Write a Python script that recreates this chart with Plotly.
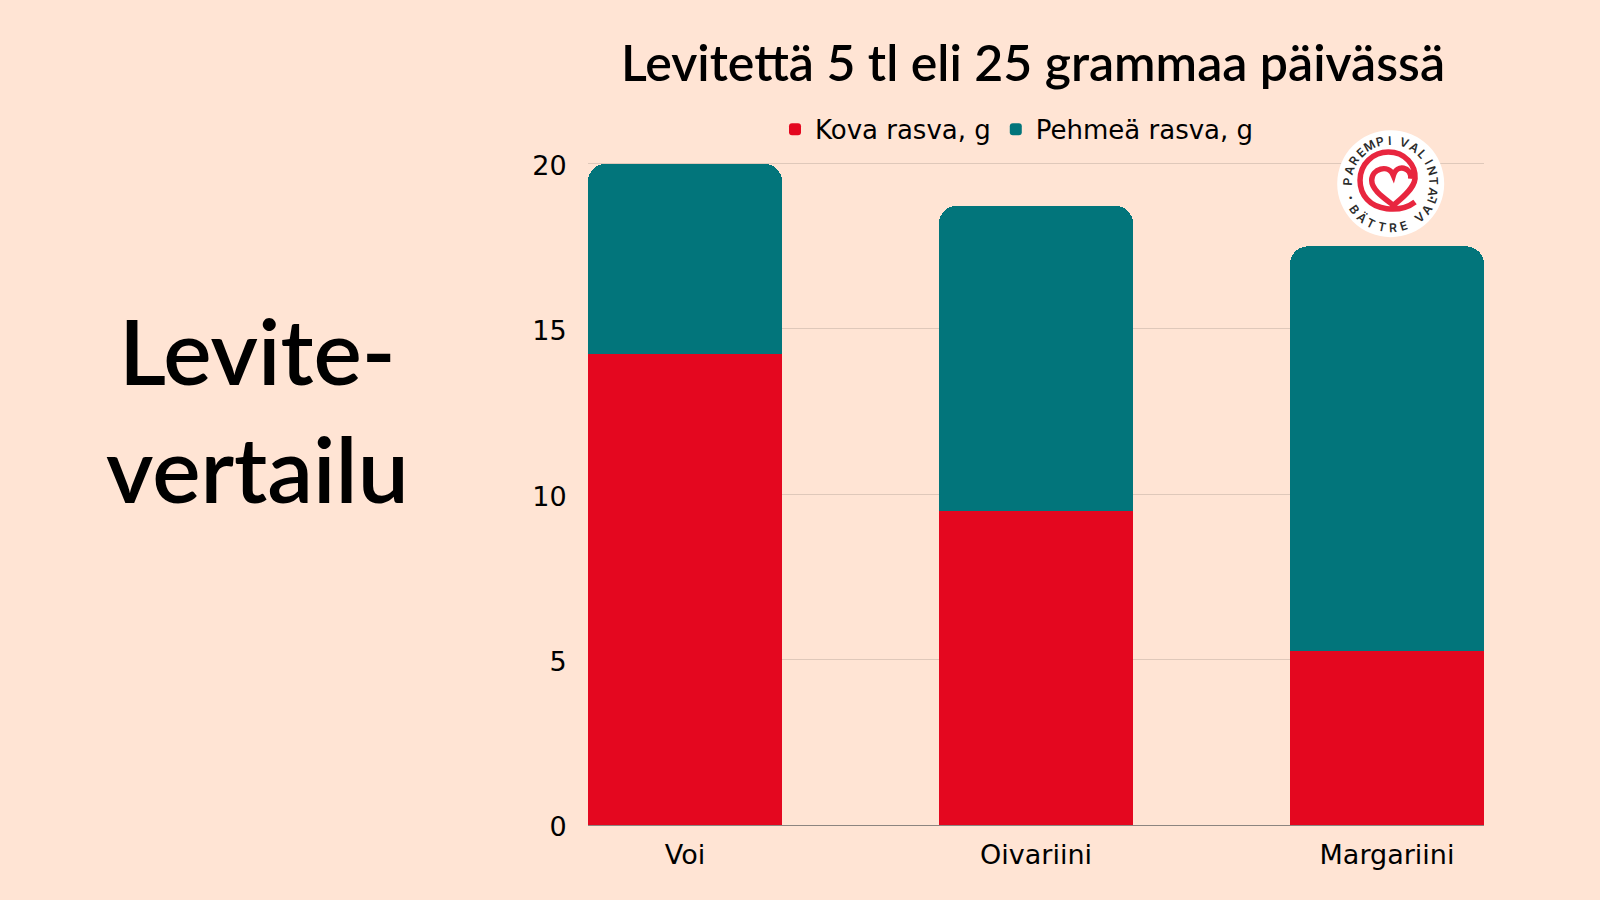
import math
import plotly.graph_objects as go

# ── DATA ──────────────────────────────
categories = ["Voi", "Oivariini", "Margariini"]
kova_rasva = [14.23, 9.5, 5.25]
pehmea_rasva = [5.77, 9.23, 12.25]
y_ticks = [0, 5, 10, 15, 20]

# ── STYLE ─────────────────────────────
BG = "#FFE4D4"
RED = "#E4071F"
TEAL = "#02757B"
LOGO_RED = "#E8263F"
LOGO_TEXT = "#2B2B2B"
TITLE_FONT = "Lato"
TICK_FONT = "DejaVu Sans"
TICK_SIZE = 27

W, H = 1600, 900
# top sits a little above 20 so plotly still draws the gridline there
Y_MAX = 20.05
L, R, T, B = 588, 1484, 161.65, 824.7


def px(x):
    return (x - L) / (R - L)


def py(y):
    return (B - y) / (B - T)


fig = go.Figure()
fig.add_trace(go.Bar(x=categories, y=kova_rasva, name="Kova rasva, g", marker=dict(color=RED, line_width=0)))
fig.add_trace(go.Bar(x=categories, y=pehmea_rasva, name="Pehmeä rasva, g", marker=dict(color=TEAL, line_width=0)))

# ── LOGO ──────────────────────────────
CX, CY, RAD = 1390.7, 183.3, 53.5


def logo_point(zx, zy):
    # points read from the 3x zoom, relative to the logo centre
    return f"{px(CX + (zx - 332) / 3):.5f},{py(CY + (zy - 220) / 3):.5f}"


heart = (
    f"M{logo_point(405, 275)} "
    f"C{logo_point(375, 298)} {logo_point(345, 298)} {logo_point(320, 295)} "
    f"C{logo_point(270, 290)} {logo_point(240, 255)} {logo_point(240, 210)} "
    f"C{logo_point(240, 160)} {logo_point(280, 125)} {logo_point(325, 125)} "
    f"C{logo_point(375, 125)} {logo_point(408, 165)} {logo_point(405, 205)} "
    f"C{logo_point(402, 235)} {logo_point(365, 265)} {logo_point(340, 285)} "
    f"C{logo_point(315, 265)} {logo_point(275, 240)} {logo_point(275, 210)} "
    f"C{logo_point(275, 175)} {logo_point(325, 160)} {logo_point(340, 195)} "
    f"C{logo_point(350, 160)} {logo_point(395, 170)} {logo_point(392, 205)}"
)

fig.add_shape(type="circle", xref="paper", yref="paper",
              x0=px(CX - RAD), x1=px(CX + RAD), y0=py(CY + RAD), y1=py(CY - RAD),
              fillcolor="white", line_width=0, layer="above")
fig.add_shape(type="path", xref="paper", yref="paper", path=heart,
              line=dict(color=LOGO_RED, width=5.5), layer="above")


def label(x, y, text, size, family=TICK_FONT, color="black", angle=0, weight="normal"):
    fig.add_annotation(x=px(x), y=py(y), xref="paper", yref="paper", text=text,
                       showarrow=False, xanchor="center", yanchor="middle", align="center",
                       textangle=angle, font=dict(family=family, size=size, color=color, weight=weight))


def ring_text(text, start, end, radius, bottom=False):
    # spaces and narrow letters take less of the arc
    steps = [0.6 if c == " " else 0.7 if c == "I" else 1 for c in text]
    total = sum(steps)
    pos = -steps[0] / 2
    for ch, st in zip(text, steps):
        pos += st
        a = start + (end - start) * (pos - st / 2 + steps[0] / 2) / (total - steps[0] / 2 - steps[-1] / 2)
        rad = math.radians(a)
        x = CX + radius * math.sin(rad)
        y = CY - radius * math.cos(rad)
        if ch != " ":
            label(x, y, ch, 12, family="Inter", color=LOGO_TEXT, angle=a - 180 if bottom else a, weight=600)


ring_text("PAREMPI VALINTA", -94, 94, 43.5)
ring_text("BÄTTRE VAL", 242, 118, 44, bottom=True)
for a in (-109, 109):
    rad = math.radians(a)
    label(CX + 43 * math.sin(rad), CY - 43 * math.cos(rad), "•", 9, color=LOGO_TEXT)

# ── TEXT ──────────────────────────────
label(257, 408, "Levite-<br>vertailu", 91, family=TITLE_FONT, weight=600)
label(1033, 62, "Levitettä 5 tl eli 25 grammaa päivässä", 50, family=TITLE_FONT, weight=600)

fig.update_layout(
    width=W, height=H,
    barmode="stack", bargap=0.447, barcornerradius=18,
    paper_bgcolor=BG, plot_bgcolor=BG,
    margin=dict(l=L, r=W - R, t=T, b=H - B, pad=0),
    legend=dict(orientation="h", traceorder="normal", x=px(1017), xanchor="center", y=py(129), yanchor="middle",
                font=dict(family=TICK_FONT, size=26, color="black"), bgcolor="rgba(0,0,0,0)"),
    hovermode=False,
)
fig.update_xaxes(range=[-0.2764, 2.2764], showgrid=False, showline=True, linecolor="#8C8580", linewidth=1,
                 ticks="outside", ticklen=6, tickcolor="rgba(0,0,0,0)",
                 tickfont=dict(family=TICK_FONT, size=TICK_SIZE, color="black"))
fig.update_yaxes(range=[0, Y_MAX], tickvals=y_ticks, showgrid=True, gridcolor="#DFC8BA", gridwidth=1,
                 zeroline=False, showline=False, ticks="outside", ticklen=15, tickcolor="rgba(0,0,0,0)",
                 ticklabelshift=2, tickfont=dict(family=TICK_FONT, size=TICK_SIZE, color="black"))

# page margin would shift the figure 8px
fig.write_html("out.html", config=dict(displayModeBar=False),
               post_script="document.body.style.margin='0';document.body.style.overflow='hidden';")
